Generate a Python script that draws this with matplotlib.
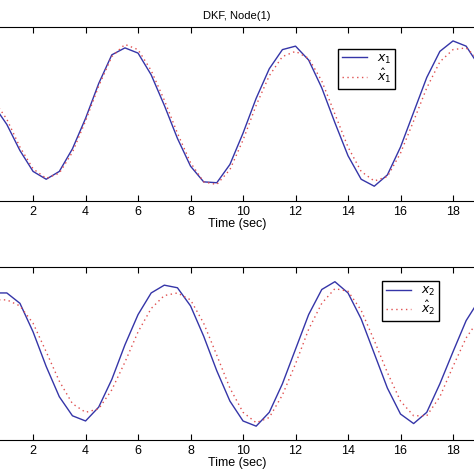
import matplotlib
matplotlib.use("Agg")
import matplotlib.pyplot as plt
import numpy as np

t = np.arange(0.5, 19.01, 0.5)
x1 = [0.10,-0.12,-0.42,-0.66,-0.75,-0.66,-0.40,-0.05,0.35,0.68,0.76,0.70,0.45,0.10,-0.28,-0.60,-0.78,-0.79,-0.58,-0.22,0.18,0.52,0.74,0.78,0.62,0.30,-0.10,-0.48,-0.75,-0.83,-0.70,-0.38,0.02,0.42,0.72,0.84,0.78,0.55]
x1h = [0.16,-0.06,-0.38,-0.63,-0.74,-0.68,-0.44,-0.08,0.32,0.66,0.80,0.74,0.50,0.16,-0.22,-0.56,-0.78,-0.81,-0.64,-0.30,0.10,0.44,0.66,0.72,0.64,0.38,0.00,-0.38,-0.66,-0.77,-0.72,-0.45,-0.08,0.30,0.60,0.74,0.76,0.62]
x2 = [0.70,0.70,0.58,0.25,-0.15,-0.50,-0.72,-0.78,-0.62,-0.30,0.10,0.45,0.70,0.79,0.76,0.55,0.20,-0.20,-0.55,-0.78,-0.84,-0.68,-0.35,0.05,0.45,0.74,0.83,0.70,0.40,0.00,-0.40,-0.70,-0.81,-0.68,-0.35,0.02,0.38,0.62]
x2h = [0.62,0.62,0.55,0.35,0.02,-0.32,-0.58,-0.68,-0.64,-0.42,-0.10,0.25,0.52,0.67,0.70,0.62,0.35,-0.02,-0.40,-0.68,-0.80,-0.74,-0.48,-0.12,0.28,0.58,0.75,0.72,0.50,0.15,-0.22,-0.55,-0.72,-0.72,-0.50,-0.15,0.18,0.40]
xticks = [2,4,6,8,10,12,14,16,18]

plt.rcParams['font.family'] = ['Liberation Sans','DejaVu Sans']
fig = plt.figure(figsize=(4.74,4.74), dpi=100)
ax1 = fig.add_axes([0, 1-201/474, 1, 174/474])
ax2 = fig.add_axes([0, 1-440/474, 1, 173/474])
blue = '#3535a8'; red = '#e05050'
for ax, a, b, lab, lo in [(ax1, x1, x1h, '1', (0.70, 0.91)), (ax2, x2, x2h, '2', (0.793, 0.954))]:
    ax.plot(t, a, color=blue, lw=1.0, label=f'$x_{lab}$')
    ax.plot(t, b, color=red, lw=1.0, ls=(0,(1,2.5)), label=f'$\\hat{{x}}_{lab}$')
    ax.set_xlim(0.74, 18.8)
    ax.set_ylim(-1, 1)
    ax.set_xticks(xticks)
    ax.set_yticks([])
    ax.tick_params(axis='x', direction='in', top=True, labelsize=9, length=4)
    ax.set_xlabel('Time (sec)', fontsize=9, labelpad=0)
    for s in ['left','right']:
        ax.spines[s].set_visible(False)
    leg = ax.legend(loc='upper left', bbox_to_anchor=lo, fontsize=9, fancybox=False,
                    edgecolor='black', framealpha=1, handlelength=2.0, borderpad=0.3, labelspacing=0.1)
    leg.get_frame().set_linewidth(1.0)
ax1.set_title('DKF, Node(1)', fontsize=8, pad=6)
fig.savefig('out.png', dpi=100)
